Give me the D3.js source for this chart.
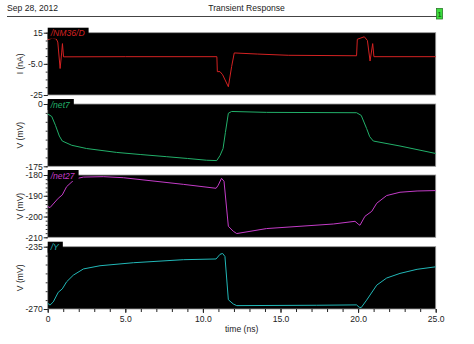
<!DOCTYPE html>
<html><head><meta charset="utf-8">
<script src="https://cdn.jsdelivr.net/npm/d3@7"></script>
<style>
html,body{margin:0;padding:0;background:#fff;}
svg text{font-family:"Liberation Sans",Arial,sans-serif;}
</style></head>
<body><svg id="c" width="474" height="344"></svg>
<script>
// ---- data ----
const xTicks = [0, 5, 10, 15, 20, 25];
const xTickLabels = ["0", "5.0", "10.0", "15.0", "20.0", "25.0"];
const xMinorStep = 1;

const signalNames = ["/NM36/D", "/net7", "/net27", "/Y"];
const yTitles = ["I (nA)", "V (mV)", "V (mV)", "V (mV)"];
const yDomains = [[-25, 15], [-175, 0], [-210, -180], [-270, -235]];
const yTickValues = [[15, -5, -25], [0, -175], [-180, -190, -200, -210], [-235, -270]];
const yTickLabels = [["15", "-5.0", "-25"], ["0", "-175"], ["-180", "-190", "-200", "-210"], ["-235", "-270"]];
const yMinorSteps = [5, 25, 2, 5];
const colors = ["#d42222", "#22b06a", "#c43cc8", "#22b8b8"];

const timeNM36 = [0,0.3,0.55,0.65,0.8,0.9,0.95,1.02,5,10.9,10.93,11.1,11.27,11.64,11.85,12.02,13.5,15.5,19.9,19.95,20.4,20.6,20.77,20.94,21.02,25];
const valNM36  = [10.5,11.5,11,9,-8,2,8,-0.5,-0.4,-0.4,-10,-10,-12,-19.7,-6.8,2.0,1.3,0.5,0.2,10.8,12.4,10,-3.2,8,-0.4,-0.4];

const timeNet7 = [0,0.26,0.5,0.75,0.94,1.55,2.5,4.44,6,7.67,9,10.24,10.89,11.1,11.3,11.45,11.64,11.85,14.1,19.9,20.2,20.55,20.75,20.98,22.7,25];
const valNet7  = [-28,-35,-60,-90,-104,-116,-125,-136,-142,-148,-153,-158,-159,-145,-125,-80,-26,-21,-23.5,-24.5,-32,-69,-92,-104,-118,-139];

const timeNet27 = [0,0.15,0.68,0.94,1.22,1.76,2.3,3.58,4.87,8.74,10.85,10.99,11.2,11.36,11.64,11.96,12.18,14.1,18.4,19.8,20.05,20.12,20.44,20.88,21.2,21.84,22.7,23.8,25];
const valNet27  = [-195.2,-195.7,-191.2,-189.6,-185.6,-181.9,-181,-180.8,-181.3,-184.5,-186.4,-184.9,-181.6,-183,-204.7,-207.1,-208.2,-205.8,-203.6,-202.3,-203.9,-204.2,-199.9,-197.5,-193.6,-189.9,-188.3,-187.7,-187.5];

const timeY = [0,0.15,0.36,0.68,0.94,1.22,1.65,2.3,3.37,5.52,8.74,10.85,11.1,11.27,11.42,11.64,11.96,12.18,17.33,19.9,20.07,20.2,20.55,21.2,21.84,22.7,23.8,25];
const valY  = [-266.8,-267.8,-266,-260.6,-258.7,-254.7,-251,-247.5,-245.7,-244,-242.3,-241.9,-239.3,-238.8,-240.5,-264.8,-267.2,-268.1,-267.9,-267.7,-269,-269.2,-265,-256.6,-252.6,-250,-247.7,-246.3];

const seriesTimes = [timeNM36, timeNet7, timeNet27, timeY];
const seriesVals = [valNM36, valNet7, valNet27, valY];

// ---- layout ----
const svg = d3.select("#c");
const left = 47.7, right = 435.7;
const panelTops = [32.7, 104, 175, 246.7];
const panelH = 62.3;
const x = d3.scaleLinear().domain([0, 25]).range([left, right]);

// header
svg.append("text").attr("x", 7).attr("y", 11).attr("font-size", 8.6).attr("fill", "#222").text("Sep 28, 2012");
svg.append("text").attr("x", 246.5).attr("y", 11).attr("font-size", 8.6).attr("fill", "#222").attr("text-anchor", "middle").text("Transient Response");
svg.append("line").attr("x1", 7).attr("x2", 437).attr("y1", 16.5).attr("y2", 16.5).attr("stroke", "#444").attr("stroke-width", 1);
svg.append("rect").attr("x", 436.5).attr("y", 8.5).attr("width", 6).attr("height", 10.5).attr("fill", "#3cdc3c").attr("stroke", "#2a7a2a").attr("stroke-width", 0.8);
svg.append("text").attr("x", 439.5).attr("y", 16.8).attr("font-size", 7.5).attr("text-anchor", "middle").attr("fill", "#114411").text("1");

panelTops.forEach((top, i) => {
  const y = d3.scaleLinear().domain(yDomains[i]).range([top + panelH, top]);
  const g = svg.append("g");
  g.append("rect").attr("x", left).attr("y", top).attr("width", right - left).attr("height", panelH)
    .attr("fill", "#000").attr("stroke", "#9a9a9a").attr("stroke-width", 0.8);

  // minor y ticks
  const [d0, d1] = yDomains[i];
  const minors = d3.range(d0, d1 + 1e-9, yMinorSteps[i]);
  const ax = d3.axisLeft(y).tickValues(minors).tickSize(2).tickFormat("");
  const ga = g.append("g").attr("transform", `translate(${left},0)`).call(ax);
  ga.select(".domain").remove();
  ga.selectAll("line").attr("stroke", "#333");

  // major y ticks
  const labels = yTickLabels[i];
  const axM = d3.axisLeft(y).tickValues(yTickValues[i]).tickSize(4).tickPadding(1)
    .tickFormat((d, k) => labels[k]);
  const gm = g.append("g").attr("transform", `translate(${left},0)`).call(axM);
  gm.select(".domain").remove();
  gm.selectAll("line").attr("stroke", "#222");
  gm.selectAll("text").attr("font-size", 8.6).attr("fill", "#222").attr("font-family", "Liberation Sans, Arial, sans-serif");

  // y title
  g.append("text").attr("transform", `translate(23,${top + panelH / 2}) rotate(-90)`)
    .attr("text-anchor", "middle").attr("font-size", 8.6).attr("fill", "#222").text(yTitles[i]);

  // line
  const pts = seriesTimes[i].map((t, k) => [t, seriesVals[i][k]]);
  const line = d3.line().x(d => x(d[0])).y(d => y(d[1]));
  g.append("path").datum(pts).attr("d", line).attr("fill", "none")
    .attr("stroke", colors[i]).attr("stroke-width", 1);

  // label tab
  const tab = g.append("g");
  const txt = tab.append("text").attr("x", left + 3).attr("y", top + 3.5).attr("font-size", 8.6)
    .attr("font-style", "italic").attr("fill", colors[i]).text(signalNames[i]);
  const w = txt.node().getComputedTextLength();
  tab.insert("rect", "text").attr("x", left).attr("y", top - 5).attr("width", w + 7).attr("height", 11).attr("fill", "#000");
});

// x axis
const yb = panelTops[3] + panelH;
const minorX = d3.range(0, 25 + 1e-9, xMinorStep);
const gx1 = svg.append("g").attr("transform", `translate(0,${yb})`)
  .call(d3.axisBottom(x).tickValues(minorX).tickSize(3).tickFormat(""));
gx1.select(".domain").remove();
gx1.selectAll("line").attr("stroke", "#222");
const gx = svg.append("g").attr("transform", `translate(0,${yb})`)
  .call(d3.axisBottom(x).tickValues(xTicks).tickSize(4).tickPadding(3).tickFormat((d, k) => xTickLabels[k]));
gx.select(".domain").remove();
gx.selectAll("line").attr("stroke", "#222");
gx.selectAll("text").attr("font-size", 8.6).attr("fill", "#222").attr("font-family", "Liberation Sans, Arial, sans-serif");

svg.append("text").attr("x", (left + right) / 2).attr("y", 332).attr("text-anchor", "middle")
  .attr("font-size", 8.6).attr("fill", "#222").text("time (ns)");
</script></body></html>
